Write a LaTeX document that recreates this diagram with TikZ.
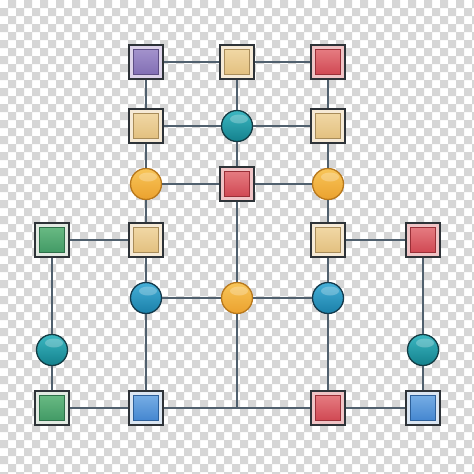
\documentclass[tikz,border=0pt]{standalone}
\usetikzlibrary{calc}
\definecolor{checkg}{HTML}{D6D6D6}
\definecolor{outl}{HTML}{2E3338}
\definecolor{linec}{HTML}{50606E}
\definecolor{purpleF}{HTML}{DDD3EA}\definecolor{purpleL}{HTML}{A898D0}\definecolor{purpleD}{HTML}{7C68B0}
\definecolor{tanF}{HTML}{F6EAD6}\definecolor{tanL}{HTML}{F3DCAB}\definecolor{tanD}{HTML}{E0BB78}
\definecolor{redF}{HTML}{F0C4C6}\definecolor{redL}{HTML}{E98489}\definecolor{redD}{HTML}{CC3F4A}
\definecolor{greenF}{HTML}{E2EAE2}\definecolor{greenL}{HTML}{6FBF88}\definecolor{greenD}{HTML}{3B9460}
\definecolor{blueF}{HTML}{DBE6F2}\definecolor{blueL}{HTML}{7FB4E8}\definecolor{blueD}{HTML}{3B7FCC}
\definecolor{tealO}{HTML}{143C44}\definecolor{tealL}{HTML}{3CB8C2}\definecolor{tealD}{HTML}{13808C}
\definecolor{cblueO}{HTML}{143A4C}\definecolor{cblueL}{HTML}{45B0D8}\definecolor{cblueD}{HTML}{1A7FA8}
\definecolor{orangeO}{HTML}{B8781C}\definecolor{orangeL}{HTML}{F8C659}\definecolor{orangeD}{HTML}{EBA12E}
\tikzset{
  sq/.style={rectangle, draw=outl, line width=1.3pt, fill=#1F, minimum size=34pt, inner sep=0pt,
    path picture={\shade[top color=#1L, bottom color=#1D, draw=#1D!75!black, line width=0.5pt]
      ($(path picture bounding box.north west)+(4.5pt,-4.5pt)$) rectangle
      ($(path picture bounding box.south east)+(-4.5pt,4.5pt)$);}},
  circ/.style={circle, draw=#1O, line width=1.3pt, minimum size=31pt, inner sep=0pt,
    top color=#1L, bottom color=#1D,
    path picture={\fill[white, opacity=0.25]
      ($(path picture bounding box.center)+(2pt,7pt)$) ellipse (9pt and 4.5pt);}},
  edge/.style={draw=linec, line width=1.8pt}
}
\begin{document}
\begin{tikzpicture}[x=1pt,y=-1pt]
\useasboundingbox (0,0) rectangle (474,474);
\clip (0,0) rectangle (474,474);
\fill[white] (0,0) rectangle (474,474);
\fill[checkg] \foreach \r in {0,16,...,464}{\foreach \c in {8,24,...,472}{(\c,\r) rectangle ++(8,8)}};
\fill[checkg] \foreach \r in {8,24,...,472}{\foreach \c in {0,16,...,464}{(\c,\r) rectangle ++(8,8)}};
% nodes
\node[sq=purple] (p1) at (146,62) {};
\node[sq=tan] (t1) at (237,62) {};
\node[sq=red] (r1) at (328,62) {};
\node[sq=tan] (t2) at (146,126) {};
\node[circ=teal] (c1) at (237,126) {};
\node[sq=tan] (t3) at (328,126) {};
\node[circ=orange] (o1) at (146,184) {};
\node[sq=red] (r2) at (237,184) {};
\node[circ=orange] (o2) at (328,184) {};
\node[sq=green] (g1) at (52,240) {};
\node[sq=tan] (t4) at (146,240) {};
\node[sq=tan] (t5) at (328,240) {};
\node[sq=red] (r3) at (423,240) {};
\node[circ=cblue] (b1) at (146,298) {};
\node[circ=orange] (o3) at (237,298) {};
\node[circ=cblue] (b2) at (328,298) {};
\node[circ=teal] (c2) at (52,350) {};
\node[circ=teal] (c3) at (423,350) {};
\node[sq=green] (g2) at (52,408) {};
\node[sq=blue] (bs1) at (146,408) {};
\node[sq=red] (r4) at (328,408) {};
\node[sq=blue] (bs2) at (423,408) {};
\coordinate (j) at (237,408);
% edges
\path[edge] (p1) -- (t1);
\path[edge] (t1) -- (r1);
\path[edge] (p1) -- (t2);
\path[edge] (t1) -- (c1);
\path[edge] (r1) -- (t3);
\path[edge] (t2) -- (c1);
\path[edge] (c1) -- (t3);
\path[edge] (t2) -- (o1);
\path[edge] (c1) -- (r2);
\path[edge] (t3) -- (o2);
\path[edge] (o1) -- (r2);
\path[edge] (r2) -- (o2);
\path[edge] (o1) -- (t4);
\path[edge] (o2) -- (t5);
\path[edge] (r2) -- (o3);
\path[edge] (o3) -- (j);
\path[edge] (g1) -- (t4);
\path[edge] (t5) -- (r3);
\path[edge] (g1) -- (c2);
\path[edge] (c2) -- (g2);
\path[edge] (r3) -- (c3);
\path[edge] (c3) -- (bs2);
\path[edge] (t4) -- (b1);
\path[edge] (b1) -- (bs1);
\path[edge] (t5) -- (b2);
\path[edge] (b2) -- (r4);
\path[edge] (b1) -- (o3);
\path[edge] (o3) -- (b2);
\path[edge] (g2) -- (bs1);
\path[edge] (bs1) -- (r4);
\path[edge] (r4) -- (bs2);
\end{tikzpicture}
\end{document}
